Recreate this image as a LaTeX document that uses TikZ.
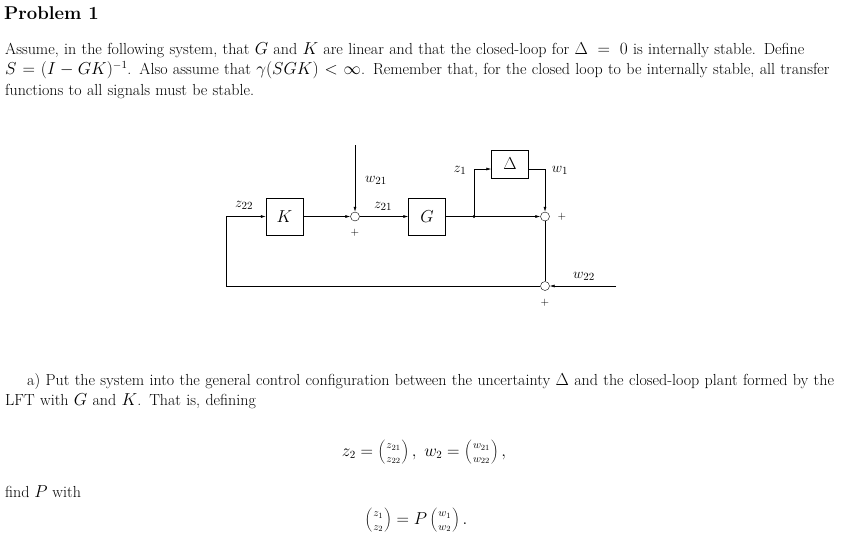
\documentclass[tikz,border=0pt]{standalone}
\usetikzlibrary{arrows.meta}
\begin{document}
\begin{tikzpicture}[x=1pt,y=-1pt,
  blk/.style={draw,minimum width=37pt,minimum height=37pt,inner sep=0pt,font=\fontsize{16}{16}\selectfont},
  sumj/.style={draw,circle,minimum size=9pt,inner sep=0pt,fill=white},
  sig/.style={-{Latex[length=5pt,width=3pt]},line width=0.6pt},
  ln/.style={line width=0.6pt},
  lab/.style={font=\fontsize{15}{15}\selectfont,inner sep=1pt},
  txt/.style={anchor=north west,inner sep=0pt,align=left,font=\fontsize{16}{20.5}\selectfont}]
\useasboundingbox (0,0) rectangle (848,550);
\node[anchor=north west,inner sep=0pt,font=\fontsize{18.5}{18.5}\selectfont\bfseries] (title) at (4,6) {Problem 1};
\node[txt,text width=832pt] (p1) at (5,42) {Assume, in the following system, that $G$ and $K$ are linear and that the closed-loop for $\Delta=0$ is internally stable. Define $S=(I-GK)^{-1}$. Also assume that $\gamma(SGK)<\infty$. Remember that, for the closed loop to be internally stable, all transfer functions to all signals must be stable.};
% diagram
\node[blk] (K) at (284.5,216.5) {$K$};
\node[blk] (G) at (427,216.5) {$G$};
\node[blk,minimum height=28pt] (D) at (510,164) {$\Delta$};
\node[sumj] (s1) at (355,216.5) {};
\node[sumj] (s2) at (545,216.5) {};
\node[sumj] (s3) at (545,286) {};
\coordinate (w21in) at (355,145);
\coordinate (w22in) at (616,286);
\coordinate (br) at (474,216.5);
\fill (br) circle (1.6pt);
\draw[sig] (w21in) -- (s1);
\draw[sig] (K) -- (s1);
\draw[sig] (s1) -- (G);
\draw[ln] (G) -- (br);
\draw[sig] (br) -- (s2);
\draw[sig] (br) |- (D.west |- 0,169);
\draw[sig] (D.east |- 0,169) -| (s2);
\draw[ln] (s2) -- (s3);
\draw[sig] (w22in) -- (s3);
\draw[sig] (s3) -- (226,286) |- (K);
\node[lab] (lw21) at (376,180) {$w_{21}$};
\node[lab] (lz21) at (383,206) {$z_{21}$};
\node[lab] (lz22) at (244,205) {$z_{22}$};
\node[lab] (lz1) at (460,170) {$z_1$};
\node[lab] (lw1) at (560,170) {$w_1$};
\node[lab] (lw22) at (584,276) {$w_{22}$};
\node[lab,font=\fontsize{11}{11}\selectfont] (pl1) at (355,233) {$+$};
\node[lab,font=\fontsize{11}{11}\selectfont] (pl2) at (562,217) {$+$};
\node[lab,font=\fontsize{11}{11}\selectfont] (pl3) at (545,303) {$+$};
% part a
\node[txt,text width=832pt] (pa) at (5,373) {\hspace*{22pt}a) Put the system into the general control configuration between the uncertainty $\Delta$ and the closed-loop plant formed by the LFT with $G$ and $K$. That is, defining};
\node[inner sep=0pt,font=\fontsize{16}{17}\selectfont] (eq1) at (424,452) {$z_2=\left({z_{21}\atop z_{22}}\right),\ w_2=\left({w_{21}\atop w_{22}}\right),$};
\node[txt] (find) at (5,485) {find $P$ with};
\node[inner sep=0pt,font=\fontsize{16}{17}\selectfont] (eq2) at (416,520) {$\left({z_{1}\atop z_{2}}\right)=P\left({w_{1}\atop w_{2}}\right).$};
\end{tikzpicture}
\end{document}
